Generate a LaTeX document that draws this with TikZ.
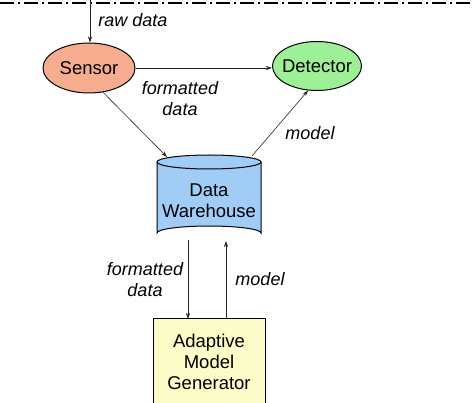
\documentclass[tikz,border=0pt]{standalone}
\usepackage{fontspec}
\setmainfont{Liberation Sans}
\usetikzlibrary{arrows.meta,shapes.geometric}
\definecolor{sensorc}{RGB}{246,172,142}
\definecolor{detc}{RGB}{158,240,150}
\definecolor{whc}{RGB}{160,204,246}
\definecolor{genc}{RGB}{252,252,200}
\tikzset{
  arr/.style={draw=black!85, line width=0.6pt, -{Stealth[length=6pt,width=4pt]}},
  oval/.style={ellipse, draw=black, line width=1pt, inner sep=0pt, font=\fontsize{18.5}{21}\selectfont},
  lbl/.style={font=\fontsize{18}{21}\selectfont\itshape, align=center, inner sep=0pt},
  body/.style={font=\fontsize{18.5}{21}\selectfont, align=center, inner sep=0pt}
}
\begin{document}
\begin{tikzpicture}[x=1pt,y=-1pt]
\useasboundingbox (0,0) rectangle (474,403);
% top dash-dot line
\coordinate (tl) at (0,3);
\coordinate (tr) at (474,3);
\draw[line width=1.1pt, dash pattern=on 14pt off 4pt on 2pt off 4pt] (tl) -- (tr);
% nodes
\node[oval, fill=sensorc, minimum width=92pt, minimum height=50pt] (sensor) at (89,68) {Sensor};
\node[oval, fill=detc, inner xsep=-4pt, minimum width=89pt, minimum height=49pt] (det) at (317,66) {Detector};
% cylinder
\fill[whc] (157,162) -- (157,233) arc[start angle=180,end angle=360,x radius=52,y radius=7] -- (261,162) arc[start angle=0,end angle=-180,x radius=52,y radius=7] -- cycle;
\draw[line width=1pt] (209,162) ellipse[x radius=52,y radius=7];
\draw[line width=1pt] (157,162) -- (157,233) arc[start angle=180,end angle=360,x radius=52,y radius=7] -- (261,162);
\node[body] (wh) at (209,201) {Data\\Warehouse};
\coordinate (whtl) at (167,157);
\coordinate (whtr) at (252,156);
\coordinate (whbl) at (188,240);
\coordinate (whbr) at (226,241);
% generator box
\draw[line width=1pt, fill=genc] (153,319) rectangle (265,410);
\node[body] (gen) at (209,362) {Adaptive\\Model\\Generator};
\coordinate (gentl) at (188,319);
\coordinate (gentr) at (226,319);
% connectors
\coordinate (src) at (90,0);
\draw[arr] (src) -- (sensor.north -| src);
\draw[arr] (sensor.east) -- (det.west |- sensor.east);
\draw[arr] (sensor.300) -- (whtl);
\draw[arr] (whtr) -- (det.250);
\draw[arr] (whbl) -- (gentl);
\draw[arr] (gentr) -- (whbr);
% labels
\node[lbl] (l1) at (133,20) {raw data};
\node[lbl] (l2) at (180,99) {formatted\\data};
\node[lbl] (l3) at (310,133) {model};
\node[lbl] (l4) at (145,280) {formatted\\data};
\node[lbl] (l5) at (260,279) {model};
\end{tikzpicture}
\end{document}
